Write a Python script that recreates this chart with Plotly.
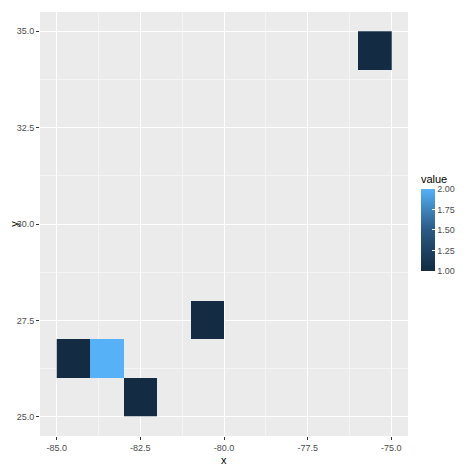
import plotly.graph_objects as go
import numpy as np

# tile data (centres of 1x1 tiles)
tile_x = [-84.5, -83.5, -82.5, -80.5, -75.5]
tile_y = [26.5, 26.5, 25.5, 27.5, 34.5]
tile_value = [1, 2, 1, 1, 1]

x_ticks = [-85.0, -82.5, -80.0, -77.5, -75.0]
y_ticks = [25.0, 27.5, 30.0, 32.5, 35.0]
cbar_ticks = [1.00, 1.25, 1.50, 1.75, 2.00]

# build grid from the tiles
xs = np.arange(min(tile_x), max(tile_x) + 0.5, 1.0)
ys = np.arange(min(tile_y), max(tile_y) + 0.5, 1.0)
z = [[None for _ in xs] for _ in ys]
for tx, ty, v in zip(tile_x, tile_y, tile_value):
    i = int(round(ty - ys[0]))
    j = int(round(tx - xs[0]))
    z[i][j] = v

colorscale = [
    [0.0, "#132B43"],
    [0.25, "#1E4262"],
    [0.5, "#2A5A83"],
    [0.75, "#3F84BB"],
    [1.0, "#56B1F7"],
]

fig = go.Figure(go.Heatmap(
    x=list(xs), y=list(ys), z=z,
    colorscale=colorscale, zmin=1, zmax=2,
    hoverongaps=False,
    colorbar=dict(
        title=dict(text="value", side="top", font=dict(size=11, color="#000000")),
        x=1.035, xanchor="left", y=0.506, yanchor="middle",
        len=99, lenmode="pixels", thickness=14, thicknessmode="pixels",
        outlinewidth=0, ypad=0, xpad=0,
        tickvals=cbar_ticks, ticktext=[f"{t:.2f}" for t in cbar_ticks],
        ticks="inside", ticklen=3, tickcolor="white",
        tickfont=dict(size=9, color="#4D4D4D"),
    ),
))

axis_common = dict(
    showgrid=True, gridcolor="white", gridwidth=1.1,
    zeroline=False, showline=False, automargin=False,
    ticks="outside", ticklen=3, tickcolor="#333333", tickwidth=1,
    tickfont=dict(size=9, color="#4D4D4D"),
    minor=dict(showgrid=True, gridcolor="#F5F5F5", gridwidth=0.6, ticks=""),
)

fig.update_xaxes(range=[-85.5, -74.5], tickvals=x_ticks,
                 ticktext=[f"{t:.1f}" for t in x_ticks],
                 minor_tickvals=[-83.75, -81.25, -78.75, -76.25],
                 **axis_common)
fig.update_yaxes(range=[24.5, 35.5], tickvals=y_ticks,
                 ticktext=[f"{t:.1f}" for t in y_ticks],
                 minor_tickvals=[26.25, 28.75, 31.25, 33.75],
                 title=dict(text="y", font=dict(size=11, color="#000000"), standoff=4),
                 **axis_common)

fig.add_annotation(text="x", xref="paper", yref="paper", x=0.5, y=-0.057,
                   xanchor="center", yanchor="middle", showarrow=False,
                   font=dict(size=11, color="#000000"))

fig.update_layout(
    width=474, height=474,
    margin=dict(l=32, r=74, t=4, b=46, autoexpand=False),
    plot_bgcolor="#EBEBEB", paper_bgcolor="white",
    font=dict(family="Liberation Sans, Arial, sans-serif"),
)

fig.write_html("out.html")
